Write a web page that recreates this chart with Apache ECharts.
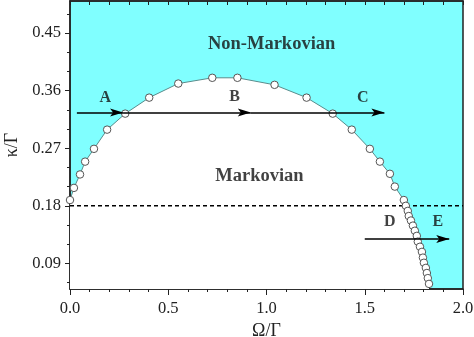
<!DOCTYPE html>
<html>
<head>
<meta charset="utf-8">
<script src="https://cdn.jsdelivr.net/npm/echarts@6/dist/echarts.min.js"></script>
<style>html,body{margin:0;padding:0;background:#fff;}#c{width:474px;height:337px;}</style>
</head>
<body>
<div id="c"></div>
<script>
// Boundary points (Omega/Gamma, kappa/Gamma)
const omega = [0.0, 0.020, 0.051, 0.077, 0.122, 0.189, 0.281, 0.403, 0.551, 0.724, 0.852, 1.041, 1.204, 1.337, 1.434, 1.526, 1.577, 1.628, 1.653, 1.699, 1.709, 1.719, 1.724, 1.735, 1.745, 1.755, 1.765, 1.770, 1.781, 1.791, 1.796, 1.801, 1.811, 1.816, 1.821, 1.827];
const kappa = [0.189, 0.208, 0.229, 0.249, 0.269, 0.299, 0.324, 0.349, 0.371, 0.380, 0.380, 0.369, 0.349, 0.324, 0.299, 0.269, 0.249, 0.230, 0.210, 0.189, 0.180, 0.172, 0.164, 0.157, 0.149, 0.141, 0.133, 0.124, 0.116, 0.108, 0.099, 0.091, 0.083, 0.075, 0.067, 0.058];

const dashedKappa = 0.18;
// arrows: [startOmega, endOmega, kappa]
const arrowStart = [0.035, 0.27, 0.92, 1.50];
const arrowEnd   = [0.27, 0.92, 1.60, 1.93];
const arrowKappa = [0.3256, 0.3256, 0.3256, 0.128];

const letterNames = ['A', 'B', 'C', 'D', 'E'];
const letterOmega = [0.179, 0.837, 1.49, 1.628, 1.872];
const letterKappa = [0.349, 0.351, 0.349, 0.155, 0.155];

const regionNames = ['Non-Markovian', 'Markovian'];
const regionOmega = [1.026, 0.964];
const regionKappa = [0.433, 0.226];

const xTicks = [0, 0.5, 1.0, 1.5, 2.0];
const yMajor = [0.09, 0.18, 0.27, 0.36, 0.45];
const yMinor = [0.06, 0.12, 0.15, 0.21, 0.24, 0.30, 0.33, 0.39, 0.42, 0.48];

const FONT = "'Liberation Serif', 'Times New Roman', serif";
const AX = '#222';
// slender swept arrowhead; dummy moveTo points keep the bounding box square and put the tip at its centre
const ARROW = 'path://M-13,-13M13,13M0,0L4,13L0,10L-4,13Z';

const curve = omega.map((o, i) => [o, kappa[i]]);
const arrows = arrowStart.map((s, i) => ({ coords: [[s, arrowKappa[i]], [arrowEnd[i], arrowKappa[i]]] }));
const letters = letterNames.map((n, i) => [letterOmega[i], letterKappa[i], n]);
const regions = regionNames.map((n, i) => [regionOmega[i], regionKappa[i], n]);

const chart = echarts.init(document.getElementById('c'), null, { renderer: 'canvas' });
chart.setOption({
  animation: false,
  grid: { left: 70, right: 11, top: 1, bottom: 48, show: true, backgroundColor: '#80ffff', borderColor: AX, borderWidth: 1.5, outerBoundsMode: 'none', containLabel: false },
  xAxis: [
    {
      type: 'value', position: 'bottom', min: 0, max: 2, interval: 0.5,
      name: 'Ω/Γ', nameLocation: 'middle', nameGap: 32,
      nameTextStyle: { fontFamily: FONT, fontSize: 18, color: AX },
      axisLine: { show: true, lineStyle: { color: AX, width: 1.5 } },
      axisTick: { show: true, length: 6, lineStyle: { color: AX, width: 1 } },
      minorTick: { show: true, splitNumber: 5, length: 3, lineStyle: { color: AX, width: 1 } },
      axisLabel: { fontFamily: FONT, fontSize: 16.5, color: AX, margin: 11, formatter: v => v.toFixed(1), customValues: xTicks },
      splitLine: { show: false }
    },
    {
      type: 'value', position: 'top', min: 0, max: 2, interval: 0.5,
      axisLine: { show: true, lineStyle: { color: AX, width: 1.5 } },
      axisTick: { show: true, inside: true, length: 4, lineStyle: { color: AX, width: 1 } },
      minorTick: { show: true, splitNumber: 5, length: 4, lineStyle: { color: AX, width: 1 } },
      axisLabel: { show: false },
      splitLine: { show: false }
    }
  ],
  yAxis: [
    {
      type: 'value', position: 'left', min: 0.05, max: 0.5,
      name: 'κ/Γ', nameLocation: 'middle', nameGap: 47,
      nameTextStyle: { fontFamily: FONT, fontSize: 18, color: AX },
      axisLine: { show: true, lineStyle: { color: AX, width: 1.5 } },
      axisTick: { show: true, length: 5, customValues: yMajor, lineStyle: { color: AX, width: 1 } },
      axisLabel: { fontFamily: FONT, fontSize: 16.5, color: AX, margin: 9, customValues: yMajor, formatter: v => v.toFixed(2) },
      splitLine: { show: false }
    },
    {
      type: 'value', position: 'left', min: 0.05, max: 0.5,
      axisLine: { show: false },
      axisTick: { show: true, length: 3, customValues: yMinor, lineStyle: { color: AX, width: 1 } },
      axisLabel: { show: false, customValues: yMinor },
      splitLine: { show: false }
    }
  ],
  series: [
    {
      type: 'line', data: curve, xAxisIndex: 0, yAxisIndex: 0, z: 1,
      symbol: 'none', lineStyle: { width: 0, opacity: 0 },
      areaStyle: { color: '#ffffff', opacity: 1, origin: 'start' },
      silent: true
    },
    {
      type: 'line', data: [[0, dashedKappa], [2, dashedKappa]], z: 2, symbol: 'none',
      lineStyle: { color: '#000', width: 1.5, type: [4, 3] }, silent: true
    },
    {
      type: 'line', data: curve, z: 3,
      symbol: 'circle', symbolSize: 7.5, showAllSymbol: true,
      lineStyle: { color: '#5a8c8c', width: 1 },
      itemStyle: { color: '#ffffff', borderColor: '#555', borderWidth: 1 }
    },
    {
      type: 'lines', coordinateSystem: 'cartesian2d', z: 4,
      data: arrows, symbol: ['none', ARROW], symbolSize: 26,
      lineStyle: { color: '#000', width: 1.5, opacity: 1, curveness: 0 },
      effect: { show: false }
    },
    {
      type: 'scatter', data: letters, z: 5, symbolSize: 1,
      itemStyle: { color: 'transparent' },
      label: { show: true, position: 'inside', formatter: p => p.value[2], fontFamily: FONT, fontWeight: 'bold', fontSize: 16, color: '#111' }
    },
    {
      type: 'scatter', data: regions, z: 5, symbolSize: 1,
      itemStyle: { color: 'transparent' },
      label: { show: true, position: 'inside', formatter: p => p.value[2], fontFamily: FONT, fontWeight: 'bold', fontSize: 18.5, color: '#111' }
    }
  ]
});
</script>
</body>
</html>
